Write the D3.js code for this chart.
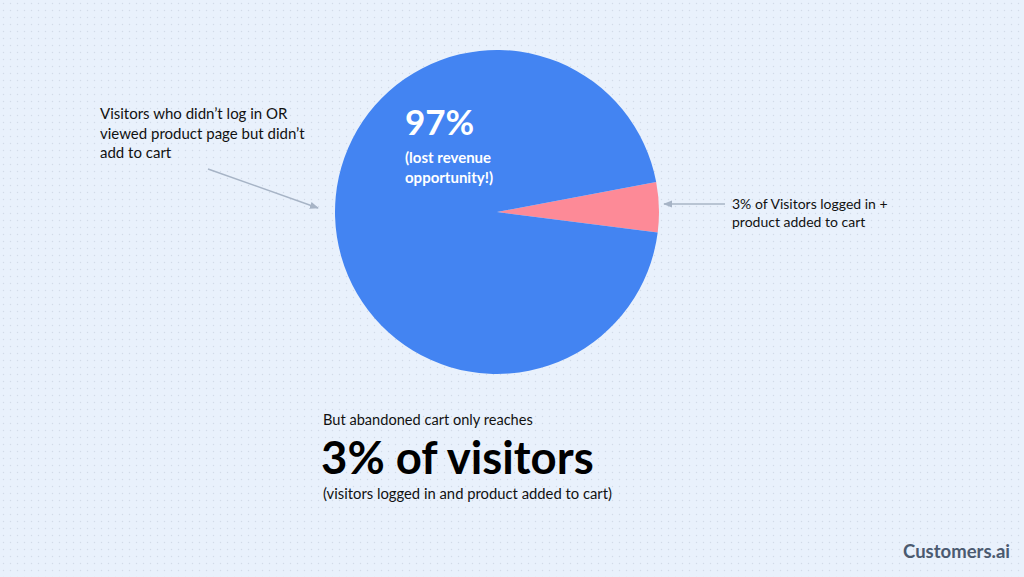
<!DOCTYPE html>
<html>
<head>
<meta charset="utf-8">
<script src="https://cdn.jsdelivr.net/npm/d3@7"></script>
<style>
  html, body { margin: 0; padding: 0; background: #e9f1fc; }
  svg { display: block; }
</style>
</head>
<body>
<div id="chart"></div>
<script>
const width = 1024, height = 577;

// slice shares as drawn in the picture
const segments = ["Logged in + added to cart", "Did not log in / did not add to cart"];
const shares = [5, 95];
const colors = ["#fd8a97", "#4384f2"];

const leftNote = ["Visitors who didn\u2019t log in OR", "viewed product page but didn\u2019t", "add to cart"];
const rightNote = ["3% of Visitors logged in +", "product added to cart"];
const bigPct = "97%";
const bigSub = ["(lost revenue", "opportunity!)"];
const bottomLead = "But abandoned cart only reaches";
const bottomBig = "3% of visitors";
const bottomSub = "(visitors logged in and product added to cart)";

const svg = d3.select("#chart").append("svg")
  .attr("width", width)
  .attr("height", height);

const defs = svg.append("defs");
const pat = defs.append("pattern")
  .attr("id", "dots")
  .attr("width", 7).attr("height", 7)
  .attr("patternUnits", "userSpaceOnUse");
pat.append("rect").attr("width", 7).attr("height", 7).attr("fill", "#e9f1fc");
pat.append("circle").attr("cx", 3.5).attr("cy", 3.5).attr("r", 0.7).attr("fill", "#d2dbe8");

defs.append("marker")
  .attr("id", "arrow")
  .attr("viewBox", "0 0 10 10")
  .attr("refX", 9).attr("refY", 5)
  .attr("markerWidth", 6).attr("markerHeight", 6)
  .attr("orient", "auto-start-reverse")
  .append("path")
  .attr("d", "M0,1 L10,5 L0,9 Z")
  .attr("fill", "#a7b4c6");

svg.append("rect").attr("width", width).attr("height", height).attr("fill", "url(#dots)");

// pie
const cx = 497, cy = 212, r = 162;
const start = 79.3 * Math.PI / 180;
const pie = d3.pie().sort(null).startAngle(start).endAngle(start + 2 * Math.PI);
const arc = d3.arc().innerRadius(0).outerRadius(r);

const g = svg.append("g").attr("transform", "translate(" + cx + "," + cy + ")");
g.selectAll("path")
  .data(pie(shares))
  .enter()
  .append("path")
    .attr("d", arc)
    .attr("fill", (d, i) => colors[i]);

const font = "Lato, 'Open Sans', sans-serif";

// labels inside pie
svg.append("text")
  .attr("x", 405).attr("y", 135)
  .attr("font-family", font).attr("font-weight", 700)
  .attr("font-size", 35).attr("fill", "#fff")
  .text(bigPct);
svg.selectAll("sub97")
  .data(bigSub)
  .enter()
  .append("text")
    .attr("x", 405).attr("y", (d, i) => 163 + i * 20)
    .attr("font-family", font).attr("font-weight", 700)
    .attr("font-size", 15).attr("fill", "#fff")
    .text(d => d);

// left annotation
svg.selectAll("leftnote")
  .data(leftNote)
  .enter()
  .append("text")
    .attr("x", 100).attr("y", (d, i) => 119 + i * 19.5)
    .attr("font-family", font).attr("font-size", 15).attr("fill", "#111")
    .text(d => d);
svg.append("line")
  .attr("x1", 208).attr("y1", 169).attr("x2", 318).attr("y2", 208)
  .attr("stroke", "#a7b4c6").attr("stroke-width", 1.5)
  .attr("marker-end", "url(#arrow)");

// right annotation
svg.selectAll("rightnote")
  .data(rightNote)
  .enter()
  .append("text")
    .attr("x", 732).attr("y", (d, i) => 209 + i * 18)
    .attr("font-family", font).attr("font-size", 14).attr("fill", "#111")
    .text(d => d);
svg.append("line")
  .attr("x1", 725).attr("y1", 204).attr("x2", 664).attr("y2", 204)
  .attr("stroke", "#a7b4c6").attr("stroke-width", 1.5)
  .attr("marker-end", "url(#arrow)");

// bottom text
svg.append("text")
  .attr("x", 323).attr("y", 425)
  .attr("font-family", font).attr("font-size", 14.6).attr("fill", "#111")
  .text(bottomLead);
svg.append("text")
  .attr("x", 321).attr("y", 474)
  .attr("font-family", font).attr("font-weight", 700)
  .attr("font-size", 45.5).attr("fill", "#000")
  .text(bottomBig);
svg.append("text")
  .attr("x", 323).attr("y", 499)
  .attr("font-family", font).attr("font-size", 14.8).attr("fill", "#111")
  .text(bottomSub);

// logo
svg.append("text")
  .attr("x", 1010).attr("y", 558)
  .attr("text-anchor", "end")
  .attr("font-family", font).attr("font-weight", 700)
  .attr("font-size", 18.5).attr("fill", "#4b5a70")
  .text("Customers.ai");
</script>
</body>
</html>
